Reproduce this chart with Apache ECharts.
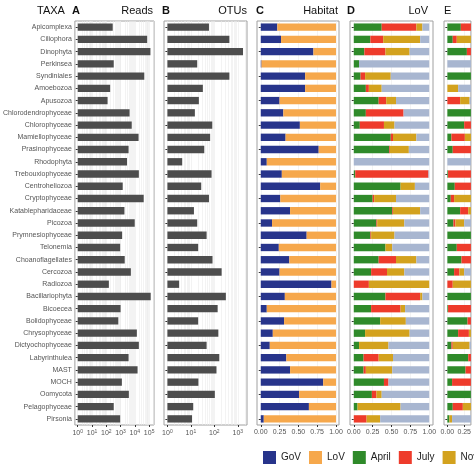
<!DOCTYPE html>
<html><head><meta charset="utf-8">
<script src="https://cdn.jsdelivr.net/npm/echarts@6/dist/echarts.min.js"></script>
<style>html,body{margin:0;padding:0;background:#fff}#c{width:474px;height:474px}</style>
</head><body><div id="c"></div>
<script>
const taxa=["Apicomplexa","Ciliophora","Dinophyta","Perkinsea","Syndiniales","Amoebozoa","Apusozoa","Chlorodendrophyceae","Chlorophyceae","Mamiellophyceae","Prasinophyceae","Rhodophyta","Trebouxiophyceae","Centroheliozoa","Cryptophyceae","Katablepharidaceae","Picozoa","Prymnesiophyceae","Telonemia","Choanoflagellates","Cercozoa","Radiozoa","Bacillariophyta","Bicoecea","Bolidophyceae","Chrysophyceae","Dictyochophyceae","Labyrinthulea","MAST","MOCH","Oomycota","Pelagophyceae","Pirsonia"];
// log10 of counts
const readsLog=[2.45,4.86,5.09,2.52,4.66,2.27,2.09,3.63,3.78,4.26,3.56,3.45,4.28,3.15,4.62,3.27,3.99,3.11,2.97,3.29,3.72,2.18,5.11,3.0,2.84,4.14,4.28,3.56,4.19,3.09,3.58,2.52,2.97];
const otusLog=[1.77,2.64,3.22,1.27,2.64,1.51,1.34,1.17,1.91,1.82,1.57,0.63,1.88,1.44,1.77,1.13,1.27,1.67,1.31,1.92,2.31,0.5,2.49,2.14,1.31,2.17,1.67,2.21,2.09,1.32,2.02,1.10,1.05];
const govFrac=[0.22,0.27,0.70,0.01,0.59,0.59,0.25,0.30,0.52,0.33,0.77,0.08,0.28,0.79,0.26,0.39,0.15,0.61,0.24,0.38,0.25,0.94,0.32,0.08,0.31,0.16,0.12,0.34,0.39,0.83,0.51,0.64,0.04];
// cumulative [April, July, November]; rest = grey
const lovCum=[[.37,.83,.91],[.22,.39,.88],[.14,.42,.74],[.07,.07,.07],[.09,.15,.49],[.16,.20,.37],[.33,.43,.56],[.16,.66,.66],[.08,.40,.54],[.49,.52,.83],[.47,.48,.73],[0,0,0],[.02,.99,.99],[.62,.62,.81],[.25,.27,.56],[.51,.52,.88],[.30,.31,.67],[.22,.23,.54],[.42,.42,.51],[.33,.56,.83],[.23,.44,.67],[0,.20,1],[.42,.88,.91],[.23,.62,.68],[.35,.35,.69],[.15,.15,.74],[.07,.07,.46],[.13,.33,.52],[.13,.16,.51],[.40,.46,.46],[.24,.30,.37],[.05,.05,.62],[0,.17,.35]];
const govCum=[[.20,.80,.90],[.08,.14,.85],[.29,.70,.85],[0,0,0],[.35,.37,.60],[0,0,.16],[0,.19,.33],[.85,.90,.95],[.25,.60,.75],[.06,.26,.40],[.08,.85,.90],[0,0,0],[.01,.97,.97],[.11,.80,.90],[.05,.10,.55],[.19,.31,.60],[.09,.12,.25],[.60,.70,.80],[.14,.60,.70],[.21,.60,.80],[.10,.18,.25],[0,.08,1],[.70,.95,.97],[.01,.90,.95],[.30,.60,.75],[.16,.32,.60],[.06,.08,.33],[.31,.60,.75],[.27,.60,.75],[.07,.80,.85],[.80,.85,.90],[.08,.23,.60],[.03,.03,.07]];
const decades=[0,1,2,3,4,5];
const fracTicks=[0,0.25,0.5,0.75,1];
const C={GoV:'#27348b',LoV:'#f6a84c',April:'#2f8a2a',July:'#ee3b2b',November:'#d3a21e',Other:'#a8b6d0'};

const gl={top:21,bottom:49,show:true,borderColor:'#a0a0a0',borderWidth:1,containLabel:false};
const grids=[{left:72,width:82},{left:164,width:83},{left:257,width:82},{left:350,width:83},{left:444,right:0}].map(g=>Object.assign({},gl,g));
const lbl={fontSize:7,color:'#555',fontFamily:'Liberation Sans'};
function logAxis(i,max,min){const t=decades.filter(v=>v<=max);return {gridIndex:i,type:'value',min:min,max:max,splitLine:{show:false},
 axisLine:{show:false},axisTick:{show:true,length:2,lineStyle:{color:'#333'},customValues:t},
 axisLabel:Object.assign({},lbl,{margin:4,customValues:t,formatter:v=>'10{s|'+Math.round(v)+'}',rich:{s:{fontSize:5,color:'#555',verticalAlign:'top',padding:[0,0,4,0]}}})};}
function fracAxis(i,max){const t=fracTicks.filter(v=>v<=max);return {gridIndex:i,type:'value',min:-0.05,max:max,splitLine:{show:false},
 axisLine:{show:false},axisTick:{show:true,length:2,lineStyle:{color:'#333'},customValues:t},
 axisLabel:Object.assign({},lbl,{margin:4,customValues:t,formatter:v=>v.toFixed(2)})};}
const xAxes=[logAxis(0,5.34,-0.2),logAxis(1,3.39,-0.145),fracAxis(2,1.04),fracAxis(3,1.05),fracAxis(4,0.35)];
const yAxes=[0,1,2,3,4].map(i=>({gridIndex:i,type:'category',data:taxa,inverse:true,
 axisLine:{show:false},axisTick:{show:true,length:2,alignWithLabel:true,lineStyle:{color:'#333'}},
 axisLabel:i===0?{fontSize:7,color:'#555',margin:3,fontFamily:'Liberation Sans'}:{show:false},splitLine:{show:false}}));
const logMinor=(mx)=>{const a=[];for(let d=0;d<6;d++)for(let k=1;k<10;k++){const v=d+Math.log10(k);if(v<=mx)a.push(v);}return a;};
const series=[];
function gridSeries(idx,vals){series.push({type:'line',xAxisIndex:idx,yAxisIndex:idx,data:[],z:0,silent:true,
 markLine:{z:0,silent:true,symbol:'none',label:{show:false},lineStyle:{color:'#ebebeb',width:0.6,type:'solid'},data:vals.map(v=>({xAxis:v}))}});}
gridSeries(0,logMinor(5.34));gridSeries(1,logMinor(3.39));gridSeries(2,fracTicks);gridSeries(3,fracTicks);gridSeries(4,fracTicks.filter(v=>v<=0.35));
series.push({type:'bar',xAxisIndex:0,yAxisIndex:0,data:readsLog,barWidth:'60%',itemStyle:{color:'#4d4d4d'},z:3});
series.push({type:'bar',xAxisIndex:1,yAxisIndex:1,data:otusLog,barWidth:'60%',itemStyle:{color:'#4d4d4d'},z:3});
series.push({name:'GoV',type:'bar',stack:'c',xAxisIndex:2,yAxisIndex:2,data:govFrac,barWidth:'60%',itemStyle:{color:C.GoV},z:3});
series.push({name:'LoV',type:'bar',stack:'c',xAxisIndex:2,yAxisIndex:2,data:govFrac.map(v=>+(1-v).toFixed(3)),barWidth:'60%',itemStyle:{color:C.LoV},z:3});
function seasonSeries(cum,idx,st){
 ['April','July','November','Other'].forEach((n,j)=>{
  const d=cum.map(c=>{const prev=j===0?0:c[j-1];const cur=j<3?c[j]:1;return +(cur-prev).toFixed(3);});
  series.push({name:n,type:'bar',stack:st,xAxisIndex:idx,yAxisIndex:idx,data:d,barWidth:'60%',clip:true,itemStyle:{color:C[n]},z:3});
 });
}
seasonSeries(lovCum,3,'d');
seasonSeries(govCum,4,'e');
const tf={fontFamily:'Liberation Sans',fontSize:11,fill:'#111'};
const graphic=[
 {type:'text',left:37,top:5,style:Object.assign({text:'TAXA'},tf)},
 {type:'text',left:72,top:5,style:Object.assign({text:'A',fontWeight:'bold'},tf)},
 {type:'text',right:474-153,top:5,style:Object.assign({text:'Reads'},tf)},
 {type:'text',left:162,top:5,style:Object.assign({text:'B',fontWeight:'bold'},tf)},
 {type:'text',right:474-247,top:5,style:Object.assign({text:'OTUs'},tf)},
 {type:'text',left:256,top:5,style:Object.assign({text:'C',fontWeight:'bold'},tf)},
 {type:'text',right:474-338,top:5,style:Object.assign({text:'Habitat'},tf)},
 {type:'text',left:347,top:5,style:Object.assign({text:'D',fontWeight:'bold'},tf)},
 {type:'text',right:474-428,top:5,style:Object.assign({text:'LoV'},tf)},
 {type:'text',left:444,top:5,style:Object.assign({text:'E'},tf)}
];
const chart=echarts.init(document.getElementById('c'),null,{renderer:'canvas'});
chart.setOption({animation:false,grid:grids,xAxis:xAxes,yAxis:yAxes,series:series,graphic:graphic,
 legend:{data:['GoV','LoV','April','July','November'],left:258,top:446,width:400,itemWidth:13,itemHeight:13,itemGap:8,icon:'rect',
  textStyle:{fontSize:10,color:'#222',fontFamily:'Liberation Sans'},selectedMode:false}});
</script></body></html>
